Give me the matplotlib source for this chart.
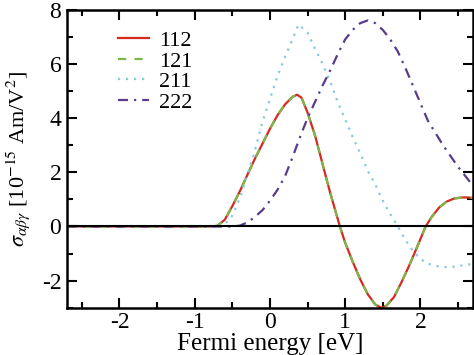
import numpy as np
import matplotlib
matplotlib.use("Agg")
import matplotlib.pyplot as plt
from matplotlib.ticker import MultipleLocator

# -------------------------------------------------
# Data
# -------------------------------------------------

E_112 = [-2.7, -0.8, -0.7, -0.6, -0.5, -0.4, -0.3, -0.2, -0.1, 0.0, 0.1, 0.2,
         0.3, 0.36, 0.42, 0.5, 0.6, 0.7, 0.8, 0.93, 1.0, 1.1, 1.2, 1.3,
         1.4, 1.48, 1.55, 1.65, 1.75, 1.85, 1.95, 2.07, 2.15, 2.25, 2.35,
         2.45, 2.55, 2.63, 2.7]
S_112 = [0, 0, 0.02, 0.25, 0.75, 1.3, 1.9, 2.5, 3.05, 3.6, 4.1, 4.5,
         4.78, 4.86, 4.75, 4.2, 3.35, 2.3, 1.25, 0.0, -0.6, -1.3, -1.95, -2.5,
         -2.88, -3.0, -2.92, -2.6, -2.05, -1.45, -0.8, 0.0, 0.35, 0.7, 0.92,
         1.03, 1.07, 1.07, 1.05]
S_121 = S_112

E_211 = [-2.7, -0.7, -0.6, -0.5, -0.4, -0.3, -0.2, -0.1, 0.0, 0.1, 0.2, 0.3,
         0.38, 0.5, 0.6, 0.7, 0.8, 0.9, 1.0, 1.1, 1.2, 1.3, 1.4, 1.5, 1.6,
         1.7, 1.8, 1.9, 2.0, 2.1, 2.2, 2.3, 2.4, 2.5, 2.6, 2.7]
S_211 = [0, 0, 0.08, 0.4, 1.05, 1.9, 2.8, 3.85, 4.7, 5.55, 6.25, 6.9,
         7.45, 7.15, 6.55, 6.0, 5.35, 4.6, 3.95, 3.3, 2.7, 2.05, 1.55, 0.95,
         0.45, 0.0, -0.5, -0.9, -1.2, -1.37, -1.45, -1.5, -1.5, -1.46, -1.42,
         -1.38]

E_222 = [-2.7, -0.5, -0.4, -0.3, -0.2, -0.1, 0.0, 0.1, 0.2, 0.3, 0.4, 0.5,
         0.6, 0.7, 0.8, 0.9, 1.0, 1.1, 1.2, 1.3, 1.4, 1.5, 1.6, 1.7, 1.8,
         1.9, 2.0, 2.1, 2.2, 2.3, 2.4, 2.5, 2.6, 2.7]
S_222 = [0, 0, 0.03, 0.15, 0.35, 0.6, 0.95, 1.35, 1.85, 2.55, 3.3, 4.0,
         4.6, 5.2, 5.75, 6.35, 6.9, 7.25, 7.5, 7.6, 7.5, 7.25, 6.9, 6.45, 5.85,
         5.2, 4.55, 3.9, 3.45, 3.0, 2.6, 2.2, 1.85, 1.5]

# -------------------------------------------------
# Plot
# -------------------------------------------------

plt.rcParams["font.family"] = ["Liberation Serif", "DejaVu Serif"]
plt.rcParams["mathtext.fontset"] = "stix"
plt.rcParams["axes.unicode_minus"] = False

fig = plt.figure(figsize=(4.74, 3.55), dpi=100)
ax = fig.add_axes([0.141, 0.133, 0.857, 0.840])

ax.axhline(0, color="black", lw=1.5, zorder=5)

ax.plot(E_112, S_112, color="#d42a20", lw=1.6, label="112")
ax.plot(E_112, S_121, color="#7cb847", lw=1.6, ls=(0, (3.7, 3.7)), label="121")
ax.plot(E_211, S_211, color="#86c8dc", lw=1.6, ls=(0, (1, 2.6)), label="211")
ax.plot(E_222, S_222, color="#5a3c8c", lw=1.6, ls=(0, (4.5, 2.7, 1, 2.7)), label="222")

ax.set_xlim(-2.7, 2.7)
ax.set_ylim(-3, 8)

ax.xaxis.set_major_locator(MultipleLocator(1))
ax.xaxis.set_minor_locator(MultipleLocator(0.5))
ax.yaxis.set_major_locator(MultipleLocator(2))
ax.yaxis.set_minor_locator(MultipleLocator(1))

ax.tick_params(which="both", direction="in", top=True, right=True,
               width=1.5, labelsize=17)
ax.tick_params(axis="x", pad=3)
ax.tick_params(axis="y", pad=4)
ax.tick_params(which="major", length=7)
ax.tick_params(which="minor", length=4)
for sp in ax.spines.values():
    sp.set_linewidth(1.8)

ax.set_xlabel("Fermi energy [eV]", fontsize=18, labelpad=0)
ax.set_ylabel(r"$\sigma_{\alpha\beta\gamma}$ [10$^{-15}$ Am/V$^2$]",
              fontsize=16, labelpad=7)

ax.legend(loc="upper left", bbox_to_anchor=(0.105, 0.96), frameon=False,
          fontsize=16, handlelength=1.4, handletextpad=0.45,
          labelspacing=0.0, borderaxespad=0)

fig.savefig("out.png", dpi=100)
